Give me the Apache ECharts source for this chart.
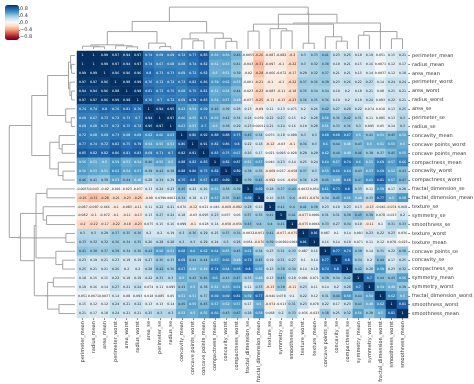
<!DOCTYPE html>
<html><head><meta charset="utf-8">
<style>html,body{margin:0;padding:0;background:#fff}#c{width:474px;height:384px}</style>
<script src="https://cdn.jsdelivr.net/npm/echarts@6/dist/echarts.min.js"></script>
</head><body><div id="c"></div>
<script>
// Correlation values: each list holds the correlation with the features that follow it in "features".
const features = ["radius_mean","texture_mean","perimeter_mean","area_mean","smoothness_mean","compactness_mean","concavity_mean","concave points_mean","symmetry_mean","fractal_dimension_mean","radius_se","texture_se","perimeter_se","area_se","smoothness_se","compactness_se","concavity_se","concave points_se","symmetry_se","fractal_dimension_se","radius_worst","texture_worst","perimeter_worst","area_worst","smoothness_worst","compactness_worst","concavity_worst","concave points_worst","symmetry_worst","fractal_dimension_worst"];
const radius_mean = [0.32,1,0.99,0.17,0.51,0.68,0.82,0.15,-0.31,0.68,-0.097,0.67,0.74,-0.22,0.21,0.19,0.38,-0.1,-0.043,0.97,0.3,0.97,0.94,0.12,0.41,0.53,0.74,0.16,0.0071];
const texture_mean = [0.33,0.32,-0.023,0.24,0.3,0.29,0.071,-0.076,0.28,0.39,0.28,0.26,0.0066,0.19,0.14,0.16,0.0091,0.054,0.35,0.91,0.36,0.34,0.078,0.28,0.3,0.3,0.11,0.12];
const perimeter_mean = [0.99,0.21,0.56,0.72,0.85,0.18,-0.26,0.69,-0.087,0.69,0.74,-0.2,0.25,0.23,0.41,-0.082,-0.0055,0.97,0.3,0.97,0.94,0.15,0.46,0.56,0.77,0.19,0.051];
const area_mean = [0.18,0.5,0.69,0.82,0.15,-0.28,0.73,-0.066,0.73,0.8,-0.17,0.21,0.21,0.37,-0.072,-0.02,0.96,0.29,0.96,0.96,0.12,0.39,0.51,0.72,0.14,0.0037];
const smoothness_mean = [0.66,0.52,0.55,0.56,0.58,0.3,0.068,0.3,0.25,0.33,0.32,0.25,0.38,0.2,0.28,0.21,0.036,0.24,0.21,0.81,0.47,0.43,0.5,0.39,0.5];
const compactness_mean = [0.88,0.83,0.6,0.57,0.5,0.046,0.55,0.46,0.14,0.74,0.57,0.64,0.23,0.51,0.54,0.25,0.59,0.51,0.57,0.87,0.82,0.82,0.51,0.69];
const concavity_mean = [0.92,0.5,0.34,0.63,0.076,0.66,0.62,0.099,0.67,0.69,0.68,0.18,0.45,0.69,0.3,0.73,0.68,0.45,0.75,0.88,0.86,0.41,0.51];
const concave_points_mean = [0.46,0.17,0.7,0.021,0.71,0.69,0.028,0.49,0.44,0.62,0.095,0.26,0.83,0.29,0.86,0.81,0.45,0.67,0.75,0.91,0.38,0.37];
const symmetry_mean = [0.48,0.3,0.13,0.31,0.22,0.19,0.42,0.34,0.39,0.45,0.33,0.19,0.091,0.22,0.18,0.43,0.47,0.43,0.43,0.7,0.44];
const fractal_dimension_mean = [0.00011,0.16,0.039,-0.09,0.4,0.56,0.45,0.34,0.35,0.69,-0.25,-0.051,-0.21,-0.23,0.5,0.46,0.35,0.18,0.33,0.77];
const radius_se = [0.21,0.97,0.95,0.16,0.36,0.33,0.51,0.24,0.23,0.72,0.19,0.72,0.75,0.14,0.29,0.38,0.53,0.095,0.05];
const texture_se = [0.22,0.11,0.4,0.23,0.19,0.23,0.41,0.28,-0.11,0.41,-0.1,-0.083,-0.074,-0.092,-0.069,-0.12,-0.13,-0.046];
const perimeter_se = [0.94,0.15,0.42,0.36,0.56,0.27,0.24,0.7,0.2,0.72,0.73,0.13,0.34,0.42,0.55,0.11,0.085];
const area_se = [0.075,0.28,0.27,0.42,0.13,0.13,0.76,0.2,0.76,0.81,0.13,0.28,0.39,0.54,0.074,0.018];
const smoothness_se = [0.34,0.27,0.33,0.41,0.43,-0.23,-0.075,-0.22,-0.18,0.31,-0.056,-0.058,-0.1,-0.11,0.1];
const compactness_se = [0.8,0.74,0.39,0.8,0.2,0.14,0.26,0.2,0.23,0.68,0.64,0.48,0.28,0.59];
const concavity_se = [0.77,0.31,0.73,0.19,0.1,0.23,0.19,0.17,0.48,0.66,0.44,0.2,0.44];
const concave_points_se = [0.31,0.61,0.36,0.087,0.39,0.34,0.22,0.45,0.55,0.6,0.14,0.31];
const symmetry_se = [0.37,-0.13,-0.077,-0.1,-0.11,-0.013,0.06,0.037,-0.03,0.39,0.078];
const fractal_dimension_se = [-0.037,-0.0032,-0.001,-0.023,0.17,0.39,0.38,0.22,0.11,0.59];
const radius_worst = [0.36,0.99,0.98,0.22,0.48,0.57,0.79,0.24,0.093];
const texture_worst = [0.37,0.35,0.23,0.36,0.37,0.36,0.23,0.22];
const perimeter_worst = [0.98,0.24,0.53,0.62,0.82,0.27,0.14];
const area_worst = [0.21,0.44,0.54,0.75,0.21,0.08];
const smoothness_worst = [0.57,0.52,0.55,0.49,0.62];
const compactness_worst = [0.89,0.8,0.61,0.81];
const concavity_worst = [0.86,0.53,0.69];
const concave_points_worst = [0.5,0.51];
const symmetry_worst = [0.54];
const triangle = [radius_mean,texture_mean,perimeter_mean,area_mean,smoothness_mean,compactness_mean,concavity_mean,concave_points_mean,symmetry_mean,fractal_dimension_mean,radius_se,texture_se,perimeter_se,area_se,smoothness_se,compactness_se,concavity_se,concave_points_se,symmetry_se,fractal_dimension_se,radius_worst,texture_worst,perimeter_worst,area_worst,smoothness_worst,compactness_worst,concavity_worst,concave_points_worst,symmetry_worst];
// Leaf order of the clustermap (top to bottom / left to right)
const categories = ["perimeter_mean","radius_mean","area_mean","perimeter_worst","area_worst","radius_worst","area_se","perimeter_se","radius_se","concavity_mean","concave points_worst","concave points_mean","compactness_mean","concavity_worst","compactness_worst","fractal_dimension_se","fractal_dimension_mean","texture_se","symmetry_se","smoothness_se","texture_worst","texture_mean","concave points_se","concavity_se","compactness_se","symmetry_mean","symmetry_worst","fractal_dimension_worst","smoothness_worst","smoothness_mean"];
const rdbu = ["#67001f","#b2182b","#d6604d","#f4a582","#fddbc7","#f7f7f7","#d1e5f0","#92c5de","#4393c3","#2166ac","#053061"];

function corr(a,b){
  let i=features.indexOf(a), j=features.indexOf(b);
  if(i===j) return 1;
  if(i>j){const t=i;i=j;j=t;}
  return triangle[i][j-i-1];
}
const n=categories.length;
const matrix=categories.map(a=>categories.map(b=>corr(a,b)));

function hex(c){return [1,3,5].map(k=>parseInt(c.substr(k,2),16));}
function colorOf(v){
  const t=(v+1)/2*(rdbu.length-1), i=Math.min(Math.floor(t),rdbu.length-2), f=t-i;
  const a=hex(rdbu[i]),b=hex(rdbu[i+1]);
  return a.map((x,k)=>x+(b[k]-x)*f);
}
function lum(v){
  const c=colorOf(v).map(x=>{x/=255;return x<=0.03928?x/12.92:Math.pow((x+0.055)/1.055,2.4);});
  return 0.2126*c[0]+0.7152*c[1]+0.0722*c[2];
}
const cells=[];
for(let r=0;r<n;r++)for(let c=0;c<n;c++){
  const v=matrix[r][c];
  cells.push({value:[c,r,v],label:{color:lum(v)<0.408?'#ffffff':'#262626'}});
}

// Average-linkage clustering of the matrix rows, drawn on the plotted leaf order
function euclid(a,b){let s=0;for(let k=0;k<n;k++)s+=(a[k]-b[k])*(a[k]-b[k]);return Math.sqrt(s);}
const D=matrix.map(a=>matrix.map(b=>euclid(a,b)));
let clusters=categories.map((_,i)=>({m:[i],pos:i+0.5,h:0}));
const links=[];
while(clusters.length>1){
  let best=Infinity,bi=0,bj=1;
  for(let i=0;i<clusters.length;i++)for(let j=i+1;j<clusters.length;j++){
    let s=0;for(const p of clusters[i].m)for(const q of clusters[j].m)s+=D[p][q];
    s/=clusters[i].m.length*clusters[j].m.length;
    if(s<best){best=s;bi=i;bj=j;}
  }
  const A=clusters[bi],B=clusters[bj];
  links.push([[A.pos,A.h],[A.pos,best],[B.pos,best],[B.pos,B.h]]);
  const N={m:A.m.concat(B.m),pos:(A.pos+B.pos)/2,h:best};
  clusters=clusters.filter((_,k)=>k!==bi&&k!==bj);clusters.push(N);
}
const rootH=clusters[0].h*1.05;
const lineStyle={color:'#a4a4a4',width:1,opacity:1};
const font='"DejaVu Sans"';
const free={outerBoundsMode:'none',containLabel:false};

const option={
  animation:false,backgroundColor:'#fff',
  grid:[
    {...free,left:77,top:51,width:331,height:267},
    {...free,left:77,top:5,width:331,height:44},
    {...free,left:6,top:51,width:69,height:267},
    {...free,left:18,top:9,width:1,height:28}
  ],
  xAxis:[
    {gridIndex:0,type:'category',data:categories,position:'bottom',axisLine:{show:false},splitLine:{show:false},
     axisTick:{show:true,alignWithLabel:true,length:2,lineStyle:{color:'#333',width:0.6}},
     axisLabel:{interval:0,rotate:90,fontSize:5,margin:3,color:'#333',fontFamily:font,overflow:'none',hideOverlap:false}},
    {gridIndex:1,type:'value',min:0,max:n,show:false},
    {gridIndex:2,type:'value',min:0,max:rootH,inverse:true,show:false},
    {gridIndex:3,type:'value',min:0,max:1,show:false}
  ],
  yAxis:[
    {gridIndex:0,type:'category',data:categories,inverse:true,position:'right',axisLine:{show:false},splitLine:{show:false},
     axisTick:{show:true,alignWithLabel:true,length:2,lineStyle:{color:'#333',width:0.6}},
     axisLabel:{interval:0,fontSize:5,margin:4,color:'#333',fontFamily:font,overflow:'none',hideOverlap:false}},
    {gridIndex:1,type:'value',min:0,max:rootH,show:false},
    {gridIndex:2,type:'value',min:0,max:n,inverse:true,show:false},
    {gridIndex:3,type:'value',min:-0.8,max:0.8,interval:0.4,position:'right',axisLine:{show:false},splitLine:{show:false},
     axisTick:{show:true,length:2,lineStyle:{color:'#333',width:0.6}},
     axisLabel:{fontSize:5,margin:1,color:'#333',fontFamily:font,formatter:v=>{const s=v.toFixed(1);return v<0?'\u2212'+s.slice(1):s;}}}
  ],
  visualMap:{type:'continuous',min:-1,max:1,seriesIndex:0,left:5,top:5,itemWidth:14,itemHeight:35,calculable:false,
    text:['',''],showLabel:false,inRange:{color:rdbu},padding:0,textGap:0},
  series:[
    {type:'heatmap',xAxisIndex:0,yAxisIndex:0,data:cells,progressive:0,
     label:{show:true,fontSize:3.2,fontFamily:font,formatter:p=>String(p.value[2])},
     itemStyle:{borderWidth:0}},
    {type:'lines',coordinateSystem:'cartesian2d',xAxisIndex:1,yAxisIndex:1,polyline:true,silent:true,
     data:links.map(l=>({coords:l})),lineStyle},
    {type:'lines',coordinateSystem:'cartesian2d',xAxisIndex:2,yAxisIndex:2,polyline:true,silent:true,
     data:links.map(l=>({coords:l.map(p=>[p[1],p[0]])})),lineStyle},
    {type:'line',xAxisIndex:3,yAxisIndex:3,data:[],silent:true}
  ]
};
const chart=echarts.init(document.getElementById('c'),null,{renderer:'canvas'});
chart.setOption(option);
</script></body></html>
